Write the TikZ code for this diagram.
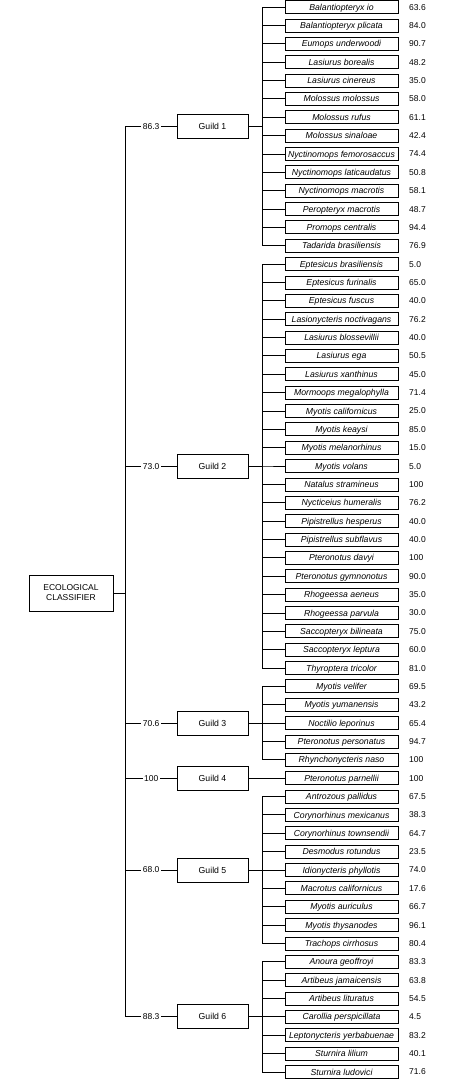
\documentclass[tikz,border=0pt]{standalone}
\usepackage{fontspec}
\setmainfont{Liberation Sans}
\begin{document}
\begin{tikzpicture}[x=1pt,y=-1pt,
 ln/.style={line width=0.7pt},
 sp/.style={draw, line width=0.7pt, minimum width=113pt, minimum height=13pt, inner sep=0pt, text height=6.3pt, text depth=0pt, font=\fontsize{8.7}{9}\selectfont\itshape},
 gd/.style={draw, line width=0.7pt, minimum width=71pt, minimum height=24pt, inner sep=0pt, text height=6.3pt, text depth=0pt, font=\fontsize{8.7}{10}\selectfont},
 rootbox/.style={draw, line width=0.7pt, minimum width=84pt, minimum height=36pt, inner sep=0pt, align=center, font=\fontsize{8.5}{10}\selectfont},
 val/.style={anchor=west, inner sep=0pt, text height=6.1pt, text depth=0pt, font=\fontsize{8.5}{9}\selectfont},
 pct/.style={fill=white, inner sep=1.5pt, text height=6.1pt, text depth=0pt, font=\fontsize{8.5}{9}\selectfont}]
\useasboundingbox (0,0) rectangle (455,1089);
\foreach \n/\v [count=\i] in {
 Balantiopteryx io/63.6, Balantiopteryx plicata/84.0, Eumops underwoodi/90.7,
 Lasiurus borealis/48.2, Lasiurus cinereus/35.0, Molossus molossus/58.0,
 Molossus rufus/61.1, Molossus sinaloae/42.4, Nyctinomops femorosaccus/74.4,
 Nyctinomops laticaudatus/50.8, Nyctinomops macrotis/58.1, Peropteryx macrotis/48.7,
 Promops centralis/94.4, Tadarida brasiliensis/76.9,
 Eptesicus brasiliensis/5.0, Eptesicus furinalis/65.0, Eptesicus fuscus/40.0,
 Lasionycteris noctivagans/76.2, Lasiurus blossevillii/40.0, Lasiurus ega/50.5,
 Lasiurus xanthinus/45.0, Mormoops megalophylla/71.4, Myotis californicus/25.0,
 Myotis keaysi/85.0, Myotis melanorhinus/15.0, Myotis volans/5.0,
 Natalus stramineus/100, Nycticeius humeralis/76.2, Pipistrellus hesperus/40.0,
 Pipistrellus subflavus/40.0, Pteronotus davyi/100, Pteronotus gymnonotus/90.0,
 Rhogeessa aeneus/35.0, Rhogeessa parvula/30.0, Saccopteryx bilineata/75.0,
 Saccopteryx leptura/60.0, Thyroptera tricolor/81.0,
 Myotis velifer/69.5, Myotis yumanensis/43.2, Noctilio leporinus/65.4,
 Pteronotus personatus/94.7, Rhynchonycteris naso/100,
 Pteronotus parnellii/100,
 Antrozous pallidus/67.5, Corynorhinus mexicanus/38.3, Corynorhinus townsendii/64.7,
 Desmodus rotundus/23.5, Idionycteris phyllotis/74.0, Macrotus californicus/17.6,
 Myotis auriculus/66.7, Myotis thysanodes/96.1, Trachops cirrhosus/80.4,
 Anoura geoffroyi/83.3, Artibeus jamaicensis/63.8, Artibeus lituratus/54.5,
 Carollia perspicillata/4.5, Leptonycteris yerbabuenae/83.2, Sturnira lilium/40.1,
 Sturnira ludovici/71.6}
{
 \pgfmathsetmacro\yy{7+(\i-1)*18.36}
 \node[sp] (s\i) at (341.5,\yy) {\n};
 \node[val] (v\i) at (409,\yy) {\v};
}
\node[rootbox] (root) at (71,593) {ECOLOGICAL\\CLASSIFIER};
\coordinate (m) at (125.7,593);
\foreach \g/\a/\b/\p in {1/1/14/86.3, 2/15/37/73.0, 3/38/42/70.6, 4/43/43/100, 5/44/52/68.0, 6/53/59/88.3}
{
 \pgfmathsetmacro\gy{7+((\a+\b)/2-1)*18.36}
 \node[gd] (g\g) at (212.5,\gy) {Guild \g};
 \coordinate (t\g) at (262,\gy);
 \foreach \k in {\a,...,\b} { \draw[ln] (g\g.east) -- (t\g) |- (s\k.west); }
 \draw[ln] (root.east) -- (m) |- (g\g.west) node[pos=0.75, pct] {\p};
}
\end{tikzpicture}
\end{document}
